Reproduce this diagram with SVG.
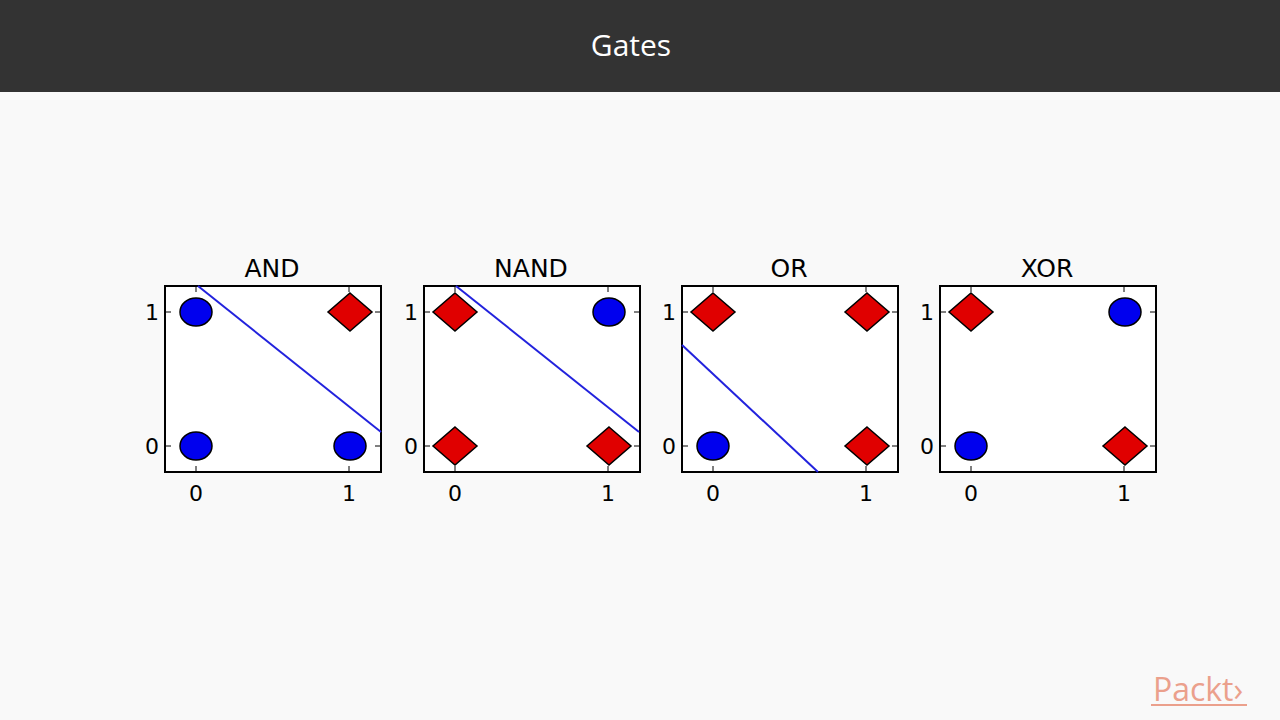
<svg xmlns="http://www.w3.org/2000/svg" width="1280" height="720" viewBox="0 0 1280 720">
<style>
.t{font-family:"DejaVu Sans",sans-serif;fill:#000}
.title{font-size:25px;text-anchor:middle}
.tk{font-size:22px}
.box{fill:#fff;stroke:#000;stroke-width:2}
.c{fill:#0000ee;stroke:#000;stroke-width:1.5}
.d{fill:#e00000;stroke:#000;stroke-width:1.5}
.tick{stroke:#000;stroke-width:1}
.ln{stroke:#2222dd;stroke-width:2}
</style>
<defs>
<g id="ax">
<rect class="box" x="165" y="286" width="216" height="186"/>
<path class="tick" d="M196,472v-6M349,472v-6M196,286v6M349,286v6M165,312h6M165,446h6M381,312h-6M381,446h-6"/>
<text class="t tk" x="196" y="501" text-anchor="middle">0</text>
<text class="t tk" x="349" y="501" text-anchor="middle">1</text>
<text class="t tk" x="159" y="320" text-anchor="end">1</text>
<text class="t tk" x="159" y="454" text-anchor="end">0</text>
</g>
<ellipse id="c" class="c" rx="16" ry="14"/>
<polygon id="d" class="d" points="0,-19 22,0 0,19 -22,0"/>
</defs>
<rect width="1280" height="720" fill="#f9f9f9"/>
<rect width="1280" height="92" fill="#333"/>
<text x="631" y="56" font-family="Open Sans,sans-serif" font-size="30" fill="#fff" text-anchor="middle">Gates</text>
<g id="and"><use href="#ax"/>
<text class="t title" x="272" y="277">AND</text>
<use href="#c" x="196" y="312"/><use href="#d" x="350" y="312"/><use href="#c" x="196" y="446"/><use href="#c" x="350" y="446"/>
</g>
<g id="nand" transform="translate(259,0)"><use href="#ax"/>
<text class="t title" x="272" y="277">NAND</text>
<use href="#d" x="196" y="312"/><use href="#c" x="350" y="312"/><use href="#d" x="196" y="446"/><use href="#d" x="350" y="446"/>
</g>
<g id="or" transform="translate(517,0)"><use href="#ax"/>
<text class="t title" x="272" y="277">OR</text>
<use href="#d" x="196" y="312"/><use href="#d" x="350" y="312"/><use href="#c" x="196" y="446"/><use href="#d" x="350" y="446"/>
</g>
<g id="xor" transform="translate(775,0)"><use href="#ax"/>
<text class="t title" x="272" y="277">XOR</text>
<use href="#d" x="196" y="312"/><use href="#c" x="350" y="312"/><use href="#c" x="196" y="446"/><use href="#d" x="350" y="446"/>
</g>
<g id="connectors">
<line class="ln" x1="198" y1="286" x2="381" y2="432"/>
<line class="ln" x1="456" y1="286" x2="639" y2="432"/>
<line class="ln" x1="682" y1="345" x2="818" y2="472"/>
</g>
<text x="1198" y="701" font-family="Open Sans,sans-serif" font-size="32" fill="#eba08c" text-anchor="middle">Packt›</text>
<line x1="1151" y1="705" x2="1247" y2="705" stroke="#eba08c" stroke-width="2"/>
</svg>
